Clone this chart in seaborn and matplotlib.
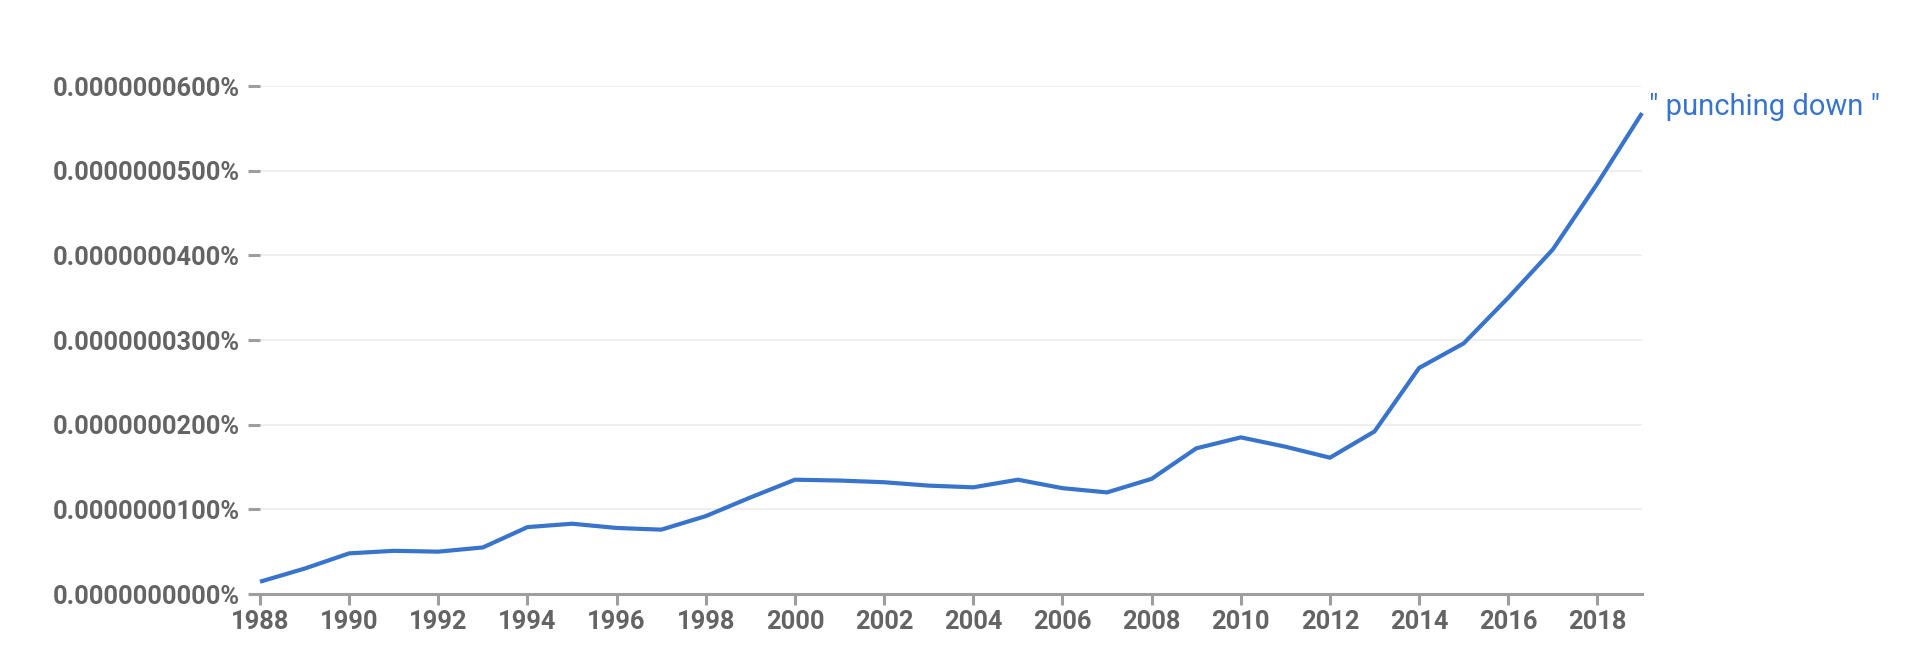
import matplotlib
matplotlib.use("Agg")
import matplotlib.pyplot as plt
import seaborn as sns
import pandas as pd
from matplotlib.ticker import FuncFormatter, FixedLocator

# ---- data (values in percent) ----
years = list(range(1988, 2020))
freq_e8 = [0.145, 0.30, 0.48, 0.51, 0.50, 0.55, 0.79, 0.83, 0.78, 0.76,
           0.92, 1.14, 1.35, 1.34, 1.32, 1.28, 1.26, 1.35, 1.25, 1.20,
           1.36, 1.72, 1.85, 1.74, 1.61, 1.92, 2.67, 2.96, 3.50, 4.07,
           4.85, 5.68]
freq_pct = [v * 1e-8 for v in freq_e8]
series_label = '" punching down "'
x_ticks = list(range(1988, 2019, 2))
y_ticks = [0.0, 1e-8, 2e-8, 3e-8, 4e-8, 5e-8, 6e-8]

df = pd.DataFrame({"year": years, "freq": freq_pct})

sns.set_theme(style="white")
plt.rcParams["font.family"] = ["Roboto", "DejaVu Sans"]

LINE = "#3874cb"
TICKC = "#9e9e9e"
LABC = "#646464"

fig = plt.figure(figsize=(19.30, 6.64), dpi=100)
ax = fig.add_axes([260 / 1930, 1 - 594 / 664, (1642 - 260) / 1930, (594 - 86) / 664])

sns.lineplot(data=df, x="year", y="freq", ax=ax, color=LINE, linewidth=3.0,
             clip_on=False, solid_capstyle="butt", solid_joinstyle="round")

ax.set_xlim(1988, 2019)
ax.set_ylim(0, 6e-8)
ax.set_xlabel("")
ax.set_ylabel("")

ax.xaxis.set_major_locator(FixedLocator(x_ticks))
ax.yaxis.set_major_locator(FixedLocator(y_ticks))
ax.yaxis.set_major_formatter(FuncFormatter(lambda v, p: f"{v:.10f}%"))
ax.xaxis.set_major_formatter(FuncFormatter(lambda v, p: f"{int(round(v))}"))

for s in ["top", "right", "left"]:
    ax.spines[s].set_visible(False)
ax.spines["bottom"].set_color(TICKC)
ax.spines["bottom"].set_linewidth(2.2)
ax.spines["bottom"].set_zorder(5)

ax.grid(axis="y", color="#efefef", linewidth=1.4)
ax.grid(axis="x", visible=False)
ax.set_axisbelow(True)

ax.tick_params(axis="y", length=8.6, width=2.2, color=TICKC, pad=5.8,
               labelsize=18.4, labelcolor=LABC, left=True)
ax.tick_params(axis="x", length=8, width=2.2, color=TICKC, pad=3.5,
               labelsize=18.4, labelcolor=LABC, bottom=True)
for lab in ax.get_xticklabels() + ax.get_yticklabels():
    lab.set_fontweight("bold")

ax.annotate(series_label, xy=(years[-1], freq_pct[-1]), xytext=(5, 4.5),
            textcoords="offset points", color=LINE, fontsize=21,
            ha="left", va="center", annotation_clip=False)

fig.savefig("out.png", dpi=100, facecolor="white")
